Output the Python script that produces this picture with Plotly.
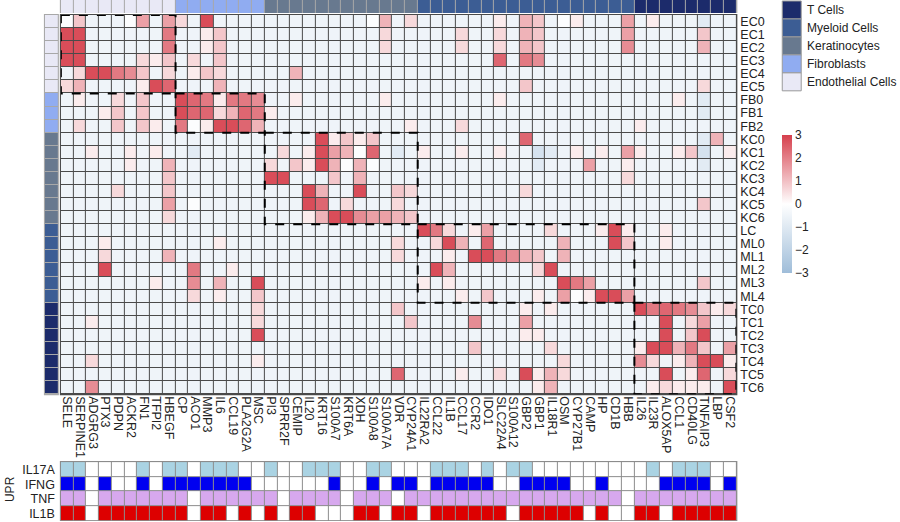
import numpy as np
import plotly.graph_objects as go

genes = ["SELE","SERPINE1","ADGRG3","PTX3","PDPN","ACKR2","FN1","TFPI2","HBEGF","CP",
         "ACO1","MMP3","IL6","CCL19","PLA2G2A","MSC","PI3","SPRR2F","CEMIP","IL20",
         "KRT16","S100A7","KRT6A","XDH","S100A8","S100A7A","VDR","CYP24A1","IL22RA2","CCL22",
         "IL1B","CCL17","CCR2","IDO1","SLC22A4","S100A12","GBP2","GBP1","IL18R1","OSM",
         "CYP27B1","CAMP","HP","CD1B","HBB","IL26","IL23R","ALOX5AP","CCL1","CD40LG",
         "TNFAIP3","LBP","CSF2"]
clusters = ["EC0","EC1","EC2","EC3","EC4","EC5","FB0","FB1","FB2",
            "KC0","KC1","KC2","KC3","KC4","KC5","KC6","LC",
            "ML0","ML1","ML2","ML3","ML4","TC0","TC1","TC2","TC3","TC4","TC5","TC6"]
# cell type of each cluster row / each gene column (index into cell_types)
cell_types = ["T Cells","Myeloid Cells","Keratinocytes","Fibroblasts","Endothelial Cells"]
type_colors = ["#1c2b6b","#3c5d94","#68798f","#90acf1","#e9e9f6"]
row_type = [4]*6 + [3]*3 + [2]*7 + [1]*6 + [0]*7
col_type = [4]*9 + [3]*7 + [2]*12 + [1]*17 + [0]*8

# z-score codes: '.' pale, ',' white, '-' light blue, '=' blue, digits = 0.3 steps
code_values = {".": -0.5, ",": -0.1, "-": -0.9, "=": -1.3,
               "1": 0.3, "2": 0.6, "3": 0.9, "4": 1.2, "5": 1.5, "6": 1.8, "7": 2.1, "8": 2.4, "9": 2.8}
zrows = [
    ",3...,5.52" ".9........" "....,4.2.." "....1.43.," "1...5.1..." "-..",   # EC0
    "99......7." ".13......." ".....2...." ".2..2.43.." "....5....." "3..",   # EC1
    "99......7." ".13......." ".....2...." ".2..2.43.." "....6....." "4..",   # EC2
    "99....213." "2.3......." ".........." "....8.76.." ".........." "...",   # EC3
    ".299763.2." "132.....4." ".........." ".........." ".........." "...",   # EC4
    "24....198." "..4......." ".........." "......3..." ".........." "2..",   # EC5
    ".1..2.3..9" "871776..1." ".....1...." "....1....." "........1." "-..",   # FB0
    "...13.3..9" "8824871..." ".........." ".........." ".........." "-..",   # FB1
    ".2..3.31.7" ",19984...." ".......1.." ".2........" ".....1...." "...",   # FB2
    ".........." ".........." "91313....." "......8..." ".........." "-4.",   # KC0
    "..1..1.1.." "-......2.1" "954,8.-.1." ".1..1..=-." "1.1.51..13" "=.1",   # KC1
    ".....1..4." "......2.31" "94,4,....." ".......-.." ".5..1....." "-..",   # KC2
    "........3." "......99.." ".3.4......" ".........." "....2....." "...",   # KC3
    "....2...3." ".........9" "4..9..32.." "......2..." ".........." "...",   # KC4
    "........5." ",........9" "8.2...2..." ".........." ".........." "3..",   # KC5
    "........2." ".........1" "49965543.." ".........." ".........." "...",   # KC6
    ".........." ".........." "........97" "2.15....2." "..191..1.." "...",   # LC
    "...1......" "..1......." "......2..2" "94.8.....4" "...93..1.." "...",   # ML0
    "...2....4." ".........." "......2..." "1.997643.4" ".........." "...",   # ML1
    "...9......" "7..1......" ".........9" "4......29." ".........." "...",   # ML2
    ".......1.." "6.4..9...." "........1." "1........9" "75........" "3..",   # ML3
    ".........." "2.1..3...." ".........." ".1.3...1.5" ",1995....." "...",   # ML4
    ".........." ".....2...." "......3..." "......1.1." ".....97876" "312",   # TC0
    "..1......." ".....2...." ".......3.." "..6...5..." ".......9.2" "5..",   # TC1
    ".........." ".....9...." ".........." "......11.." ".......9.3" "9..",   # TC2
    ".........." ".........." ".........." "..3.....2." ".....19947" "3.5",   # TC3
    "..2......." ".....1...." ".........." ".........2" ".....62.14" "991",   # TC4
    ".........." ".........." "......8..." ".1..2.9142" ".......9.1" "8.2",   # TC5
    "..6......." ".........." ".........." ".......14." "......1211" "1.9",   # TC6
]

# UPR annotation (1 = present)
upr_names = ["IL17A","IFNG","TNF","IL1B"]
upr_colors = ["#aad3e3","#0000f0","#d7a8ee","#dd0000"]
upr_rows = [
    "11000010110111001001110011" "000111010110000000001011100",  # IL17A
    "11010010111111100000010010" "110111110011110010000111101",  # IFNG
    "11011111110111111011110111" "011111111111111111011111111",  # TNF
    "11011111110110101011000110" "110111111011111010011011111",  # IL1B
]

# ---------------- build ----------------
Z = np.array([[code_values[c] for c in r] for r in zrows])
nr, nc = Z.shape
W, H = 900, 522
def px(x): return x / W
def py(y): return 1 - y / H

X0, X1 = 60, 737
Y0, Y1 = 15, 395

fig = go.Figure()

colorscale = [[0, "#9fbdd9"], [0.5, "#ffffff"], [1, "#d6404d"]]
fig.add_trace(go.Heatmap(
    z=Z, x=list(range(nc)), y=list(range(nr)), zmin=-3, zmax=3,
    colorscale=colorscale, xgap=1, ygap=1, hoverinfo="skip",
    xaxis="x", yaxis="y",
    colorbar=dict(x=px(773), xanchor="left", y=py(204), yanchor="middle",
                  len=138, lenmode="pixels", thickness=10, outlinewidth=0,
                  tickvals=[-3, -2, -1, 0, 1, 2, 3], ticks="", xpad=10, ypad=0,
                  tickfont=dict(size=12, color="#222"))))

# column annotation
ct_scale = []
n_t = len(type_colors)
for i, c in enumerate(type_colors):
    ct_scale.append([i / n_t, c]); ct_scale.append([(i + 1) / n_t, c])
fig.add_trace(go.Heatmap(z=[col_type], x=list(range(nc)), y=[0], zmin=-0.5, zmax=n_t - 0.5,
                         colorscale=ct_scale, showscale=False, xgap=1, hoverinfo="skip",
                         xaxis="x2", yaxis="y2"))
# row annotation
fig.add_trace(go.Heatmap(z=[[t] for t in row_type], x=[0], y=list(range(nr)), zmin=-0.5, zmax=n_t - 0.5,
                         colorscale=ct_scale, showscale=False, ygap=1, hoverinfo="skip",
                         xaxis="x3", yaxis="y3"))
# UPR panel
U = np.array([[int(c) * (k + 1) for c in r] for k, r in enumerate(upr_rows)])
uc = ["#ffffff"] + upr_colors
u_scale = []
for i, c in enumerate(uc):
    u_scale.append([i / 5, c]); u_scale.append([(i + 1) / 5, c])
fig.add_trace(go.Heatmap(z=U, x=list(range(nc)), y=list(range(4)), zmin=-0.5, zmax=4.5,
                         colorscale=u_scale, showscale=False, xgap=1, ygap=1, hoverinfo="skip",
                         xaxis="x4", yaxis="y4"))

font = "Liberation Sans, Arial, sans-serif"
noax = dict(showgrid=False, zeroline=False, showticklabels=False, ticks="", showline=False)
fig.update_layout(
    width=W, height=H, margin=dict(l=0, r=0, t=0, b=0),
    paper_bgcolor="white", plot_bgcolor="white",
    font=dict(family=font, size=12, color="#222"),
    showlegend=False,
    xaxis=dict(domain=[px(X0), px(X1)], range=[-0.5, nc - 0.5], showgrid=False, zeroline=False,
               tickvals=list(range(nc)), ticktext=genes, tickangle=90, ticks="",
               ticklabelstandoff=1,
               tickfont=dict(size=12.5, color="#222"), anchor="y"),
    yaxis=dict(domain=[py(Y1), py(Y0)], range=[nr - 0.5, -0.5], showgrid=False, zeroline=False,
               tickvals=list(range(nr)), ticktext=clusters, side="right", ticks="",
               ticklabelstandoff=3,
               tickfont=dict(size=12.5, color="#222"), anchor="x"),
    xaxis2=dict(domain=[px(X0), px(X1)], range=[-0.5, nc - 0.5], anchor="y2", **noax),
    yaxis2=dict(domain=[py(13), py(0)], range=[-0.5, 0.5], anchor="x2", **noax),
    xaxis3=dict(domain=[px(44), px(57)], range=[-0.5, 0.5], anchor="y3", **noax),
    yaxis3=dict(domain=[py(Y1), py(Y0)], range=[nr - 0.5, -0.5], anchor="x3", **noax),
    xaxis4=dict(domain=[px(X0), px(X1)], range=[-0.5, nc - 0.5], anchor="y4", **noax),
    yaxis4=dict(domain=[py(522), py(463)], range=[3.5, -0.5], anchor="x4", showgrid=False,
                zeroline=False, tickvals=[0, 1, 2, 3], ticktext=upr_names, ticks="",
                ticklabelstandoff=5,
                tickfont=dict(size=12.5, color="#222")),
)

shapes = []
# grid backgrounds (cell borders)
shapes.append(dict(type="rect", xref="paper", yref="paper", x0=px(X0 - 1), x1=px(X1 + 1),
                   y0=py(Y1 + 1), y1=py(Y0 - 1), fillcolor="#4a4a4a", line=dict(width=0), layer="below"))
shapes.append(dict(type="rect", xref="paper", yref="paper", x0=px(X0 - 1), x1=px(X1 + 1),
                   y0=py(13), y1=py(0), fillcolor="#a8a8a8", line=dict(width=0), layer="below"))
shapes.append(dict(type="rect", xref="paper", yref="paper", x0=px(43), x1=px(58),
                   y0=py(Y1 + 1), y1=py(Y0 - 1), fillcolor="#a8a8a8", line=dict(width=0), layer="below"))
shapes.append(dict(type="rect", xref="paper", yref="paper", x0=px(X0 - 1), x1=px(X1 + 1),
                   y0=py(522), y1=py(462), fillcolor="#8c8c8c", line=dict(width=0), layer="below"))
# dashed cluster boxes (col range, row range)
boxes = [((0, 8), (0, 5)), ((9, 15), (6, 8)), ((16, 27), (9, 15)), ((28, 44), (16, 21)), ((45, 52), (22, 28))]
for (c0, c1), (r0, r1) in boxes:
    shapes.append(dict(type="rect", xref="x", yref="y", x0=c0 - 0.5, x1=c1 + 0.5, y0=r0 - 0.5, y1=r1 + 0.5,
                       line=dict(color="black", width=2, dash="dash"), fillcolor="rgba(0,0,0,0)"))
# legend boxes
LX0, LX1, LY0, LH = 783, 802, 1, 18
annotations = []
for i, (name, col) in enumerate(zip(cell_types, type_colors)):
    y0 = LY0 + i * LH
    shapes.append(dict(type="rect", xref="paper", yref="paper", x0=px(LX0), x1=px(LX1),
                       y0=py(y0 + LH), y1=py(y0), fillcolor=col, line=dict(color="#9a9a9a", width=1)))
    annotations.append(dict(x=px(806), y=py(y0 + LH / 2), xref="paper", yref="paper", text=name,
                            showarrow=False, xanchor="left", yanchor="middle",
                            font=dict(size=12, color="#222")))
annotations.append(dict(x=px(9), y=py(490), xref="paper", yref="paper", text="UPR", textangle=-90,
                        showarrow=False, xanchor="center", yanchor="middle", font=dict(size=12, color="#222")))
fig.update_layout(shapes=shapes, annotations=annotations)

fig.write_html("out.html")
